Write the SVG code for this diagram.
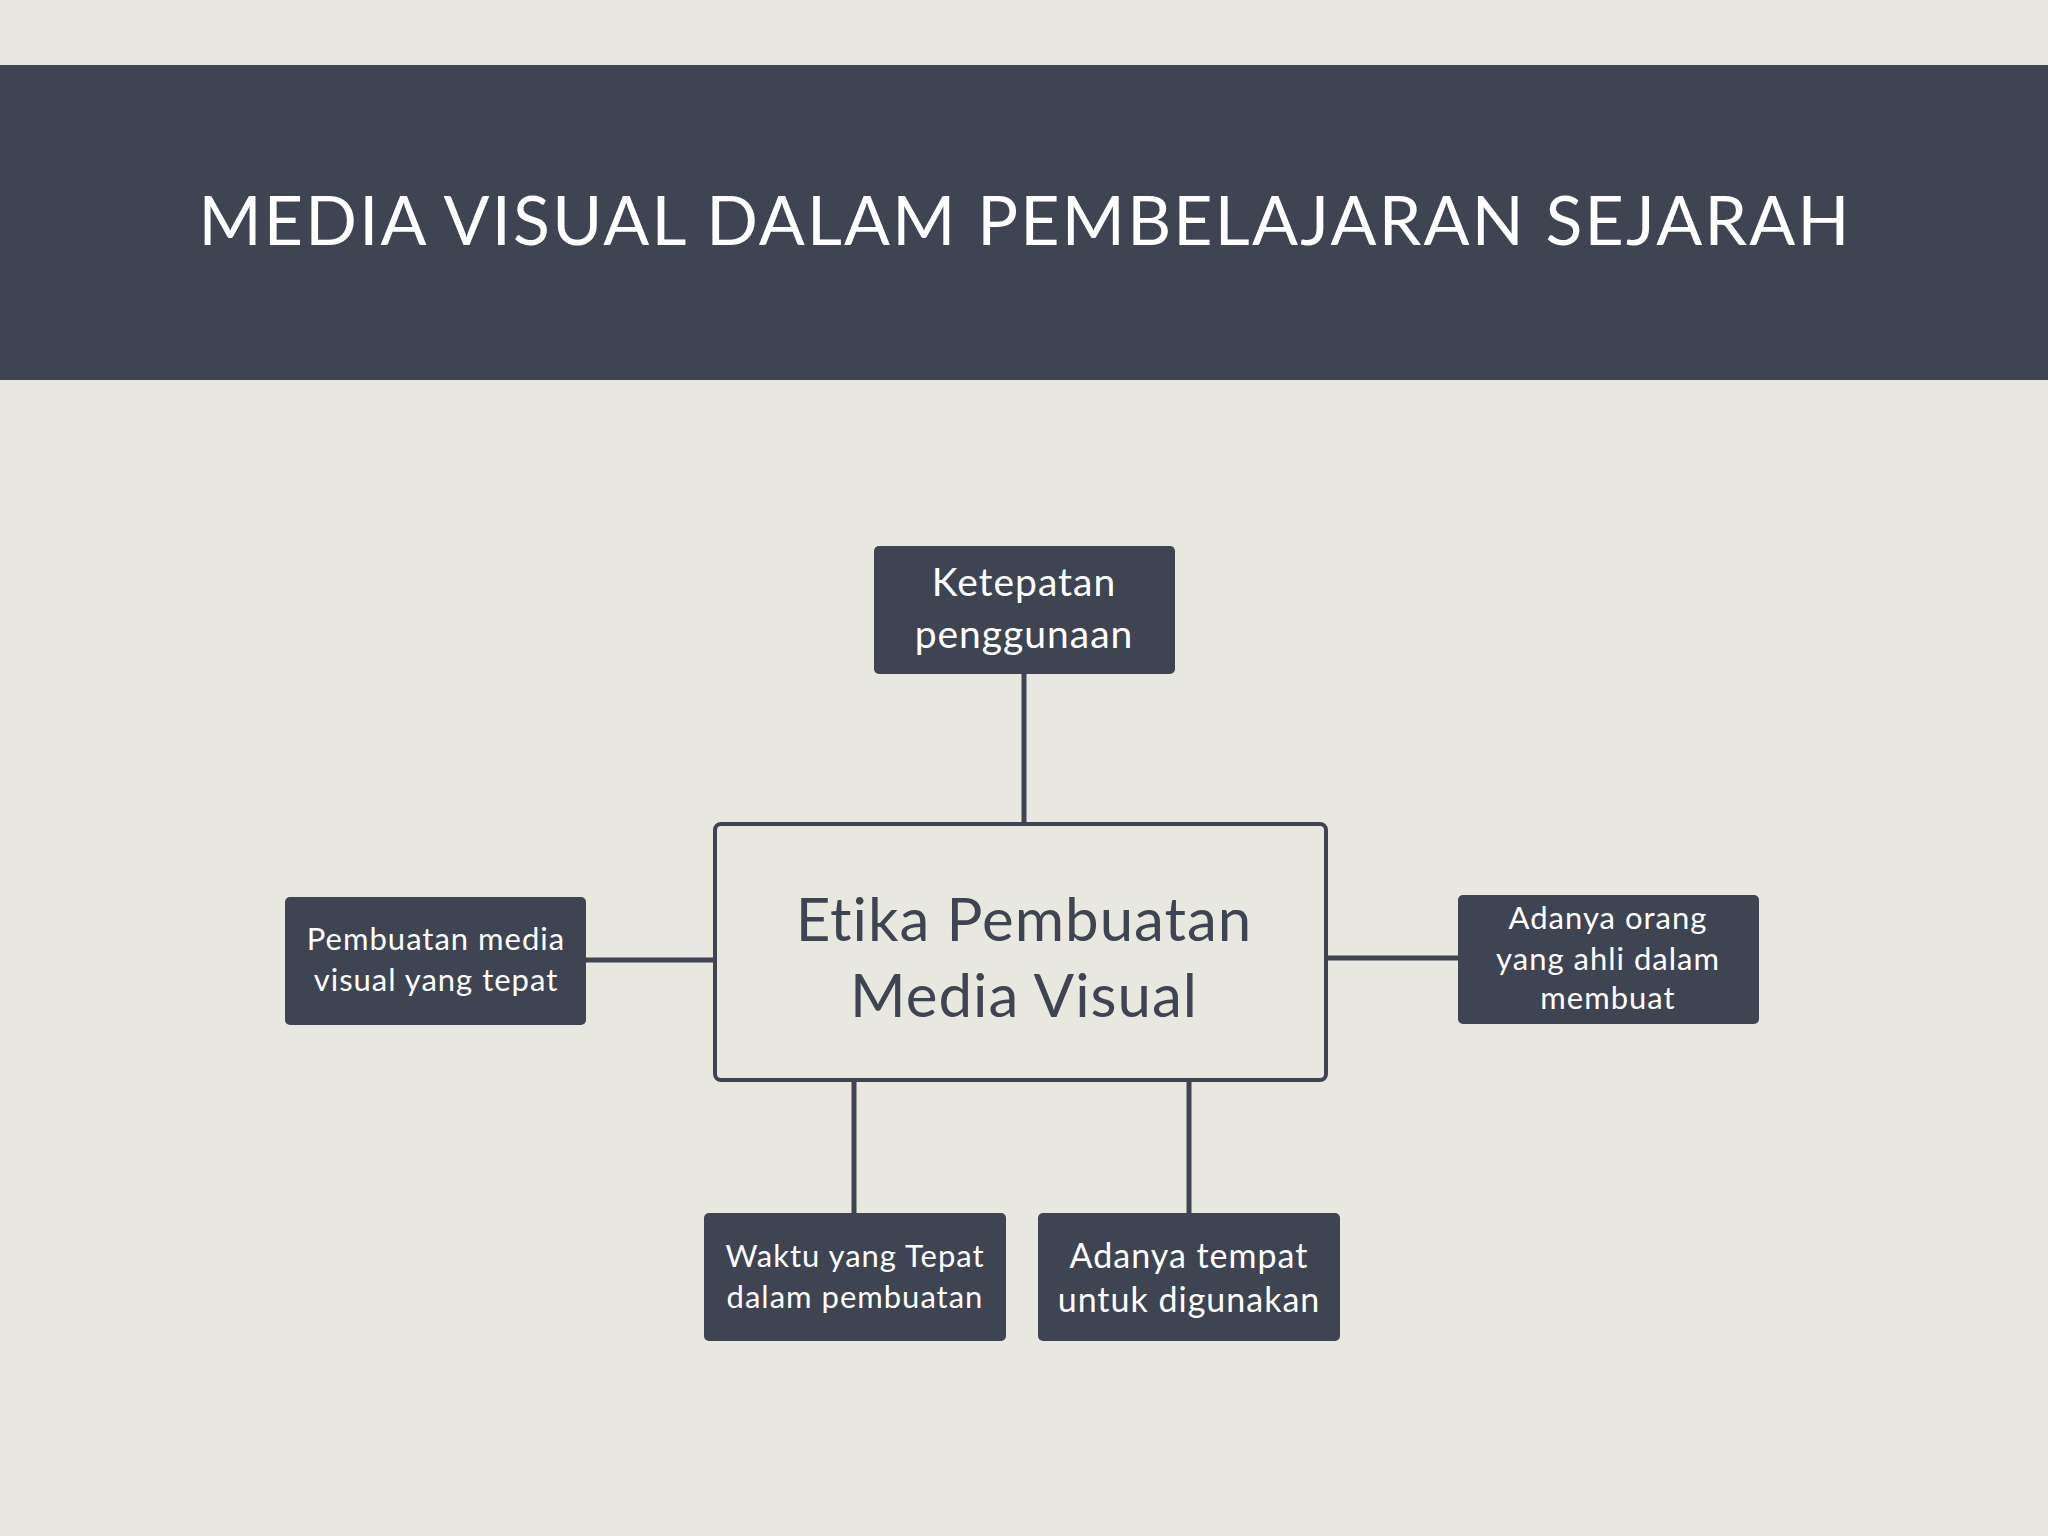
<svg xmlns="http://www.w3.org/2000/svg" width="2048" height="1536" viewBox="0 0 2048 1536">
<style>
.box{fill:#3E4451;}
.t{font-family:Lato,"Open Sans",sans-serif;fill:#FFFFFF;text-anchor:middle;letter-spacing:1px;}
.c{stroke:#3E4451;stroke-width:5;fill:none;}
</style>
<rect width="2048" height="1536" fill="#E8E7E0"/>
<rect x="0" y="65" width="2048" height="315" fill="#3E4451"/>
<text x="1024" y="245" font-family="Lato,'Open Sans',sans-serif" font-size="68" fill="#FFFFFF" text-anchor="middle" textLength="1651" lengthAdjust="spacing">MEDIA VISUAL DALAM PEMBELAJARAN SEJARAH</text>
<g id="connectors">
<line class="c" x1="1024" y1="674" x2="1024" y2="823"/>
<line class="c" x1="586" y1="960" x2="714" y2="960"/>
<line class="c" x1="1326" y1="958" x2="1458" y2="958"/>
<line class="c" x1="854" y1="1080" x2="854" y2="1213"/>
<line class="c" x1="1189" y1="1080" x2="1189" y2="1213"/>
</g>
<g id="center">
<rect x="715" y="824" width="611" height="256" rx="6" fill="#E8E7E0" stroke="#3E4451" stroke-width="4"/>
<text class="t" style="fill:#3E4451" font-size="60" x="1024" y="941">Etika Pembuatan</text>
<text class="t" style="fill:#3E4451" font-size="60" x="1024" y="1017">Media Visual</text>
</g>
<g id="top">
<rect class="box" x="874" y="546" width="301" height="128" rx="5"/>
<text class="t" font-size="39" x="1024" y="596">Ketepatan</text>
<text class="t" font-size="39" x="1024" y="648">penggunaan</text>
</g>
<g id="left">
<rect class="box" x="285" y="897" width="301" height="128" rx="5"/>
<text class="t" font-size="31" x="436" y="950">Pembuatan media</text>
<text class="t" font-size="31" x="436" y="991">visual yang tepat</text>
</g>
<g id="right">
<rect class="box" x="1458" y="895" width="301" height="129" rx="5"/>
<text class="t" font-size="31" x="1608" y="929">Adanya orang</text>
<text class="t" font-size="31" x="1608" y="970">yang ahli dalam</text>
<text class="t" font-size="31" x="1608" y="1009">membuat</text>
</g>
<g id="bottomleft">
<rect class="box" x="704" y="1213" width="302" height="128" rx="5"/>
<text class="t" font-size="31" x="855" y="1267">Waktu yang Tepat</text>
<text class="t" font-size="31" x="855" y="1308">dalam pembuatan</text>
</g>
<g id="bottomright">
<rect class="box" x="1038" y="1213" width="302" height="128" rx="5"/>
<text class="t" font-size="34" x="1189" y="1268">Adanya tempat</text>
<text class="t" font-size="34" x="1189" y="1312">untuk digunakan</text>
</g>
</svg>
